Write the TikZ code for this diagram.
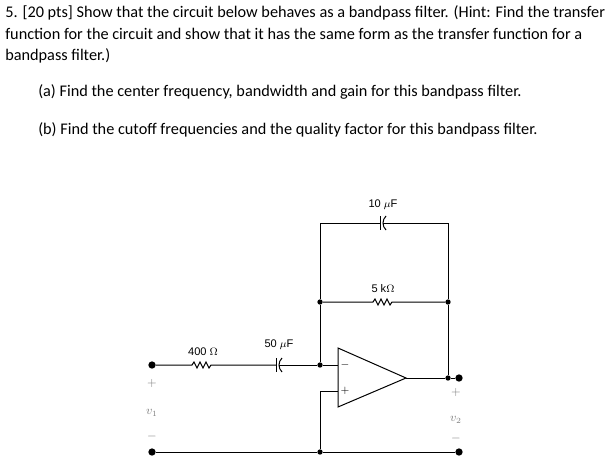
\documentclass[tikz,border=0pt]{standalone}
\usepackage{fontspec}
\setmainfont{Carlito}
\newfontfamily\lab{Liberation Sans}
\begin{document}
\begin{tikzpicture}[x=0.75pt,y=-0.75pt,
  txt/.style={anchor=west,inner sep=0,font=\fontsize{12.2}{14}\selectfont},
  clab/.style={inner sep=0,font=\lab\fontsize{8.3}{9}\selectfont},
  dot/.style={circle,fill,inner sep=0,minimum size=4pt},
  term/.style={circle,fill,inner sep=0,minimum size=5.5pt},
  pm/.style={inner sep=0,text=gray,font=\fontsize{9}{10}\selectfont},
  wire/.style={line width=0.75pt}]
\useasboundingbox (0,0) rectangle (610,460);
\node[txt] (l1) at (5,13) {5. [20 pts] Show that the circuit below behaves as a bandpass filter. (Hint: Find the transfer};
\node[txt] (l2) at (5,34) {function for the circuit and show that it has the same form as the transfer function for a};
\node[txt] (l3) at (5,56) {bandpass filter.)};
\node[txt] (qa) at (38,92) {(a) Find the center frequency, bandwidth and gain for this bandpass filter.};
\node[txt] (qb) at (38,130) {(b) Find the cutoff frequencies and the quality factor for this bandpass filter.};
% nodes
\node[term] (in1) at (152,365) {};
\node[term] (in2) at (152,452) {};
\node[term] (out1) at (459,378) {};
\node[term] (out2) at (459,452) {};
\node[dot] (nm) at (320,365) {};
\node[dot] (nr) at (320,302) {};
\node[dot] (nrr) at (448,302) {};
\node[dot] (no) at (448,378) {};
\node[dot] (ng) at (320,452) {};
\coordinate (tl) at (320,223);
\coordinate (tr) at (448,223);
% op amp
\draw[wire] (338,348) -- (406,378) -- (338,407) -- cycle;
\node[inner sep=0,font=\footnotesize] at (345,365) {$-$};
\node[inner sep=0,font=\footnotesize] at (345,391) {$+$};
\coordinate (opout) at (406,378);
% input branch
\draw[wire] (in1) -- (192,365) -- (194,362) -- (197,368) -- (200,362) -- (203,368) -- (206,362) -- (209,368) -- (211,365) -- (276,365);
\draw[wire] (276,358) -- (276,372);
\draw[wire] (282,358) .. controls (278,362) and (278,368) .. (282,372);
\draw[wire] (279,365) -- (nm) -- (338,365);
\draw[wire] (338,391) -- (320,391) -- (ng);
\draw[wire] (in2) -- (ng) -- (out2);
\draw[wire] (opout) -- (no) -- (out1);
% feedback
\draw[wire] (nm) -- (nr) -- (tl) -- (380,223);
\draw[wire] (380,216) -- (380,230);
\draw[wire] (386,216) .. controls (382,220) and (382,226) .. (386,230);
\draw[wire] (383,223) -- (tr) -- (nrr) -- (no);
\draw[wire] (nr) -- (373,302) -- (375,299) -- (378,305) -- (381,299) -- (384,305) -- (387,299) -- (390,305) -- (392,302) -- (nrr);
% labels
\node[clab] at (203,352) {400 $\Omega$};
\node[clab] at (279,345) {50 $\mu$F};
\node[clab] at (383,205) {10 $\mu$F};
\node[clab] at (383,289) {5 k$\Omega$};
\node[pm] at (152,383) {$+$};
\node[pm] at (152,413) {$v_1$};
\node[pm] at (152,436) {$-$};
\node[pm] at (456,392) {$+$};
\node[pm] at (456,420) {$v_2$};
\node[pm] at (456,438) {$-$};
\end{tikzpicture}
\end{document}
